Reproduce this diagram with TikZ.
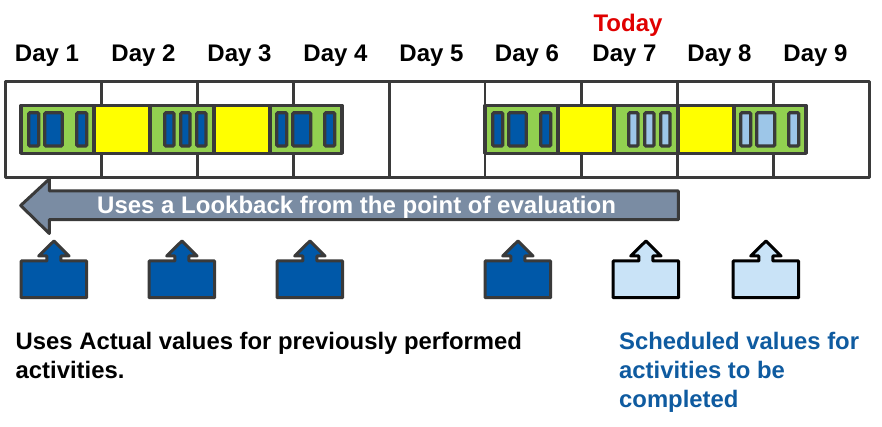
\documentclass[tikz,border=0pt]{standalone}
\usepackage{fontspec}
\setmainfont{Liberation Sans}
\definecolor{edge}{HTML}{3A3A3A}
\definecolor{barG}{HTML}{92D050}
\definecolor{barY}{HTML}{FFFF00}
\definecolor{actual}{HTML}{0058A8}
\definecolor{planned}{HTML}{9DC6E8}
\definecolor{sched}{HTML}{C9E3F7}
\definecolor{look}{HTML}{7A8CA3}
\definecolor{schedtxt}{HTML}{0F5BA0}
\definecolor{today}{HTML}{E00000}
\tikzset{
  x=1pt,y=-1pt,
  grid line/.style={draw=edge,line width=2.8pt,line join=round},
  segG/.style={draw=edge,fill=barG,line width=3.2pt,line join=round},
  segY/.style={draw=edge,fill=barY,line width=3.2pt,line join=round},
  pill/.style={draw=edge,line width=3.2pt,rounded corners=1.2pt},
  daylab/.style={font=\fontsize{24}{27}\selectfont\bfseries,anchor=base},
  bodytxt/.style={font=\fontsize{23.85}{29}\selectfont\bfseries,anchor=north west,align=left,inner sep=0pt},
  ubox/.style={line width=3pt,line join=round}
}
\newcommand{\upbox}[3]{%
  \path[ubox,draw=#2,fill=#3] (#1+21,261) -- (#1+46.9,261) -- (#1+46.9,256) -- (#1+38.7,256) -- (#1+53.9,241) -- (#1+69.1,256) -- (#1+60.9,256) -- (#1+60.9,261) -- (#1+86.7,261) -- (#1+86.7,297.7) -- (#1+21,297.7) -- cycle;}
\newcommand{\barset}[1]{%
  \path[segG] (#1+21,105.3) rectangle (#1+94,153.3);
  \path[segY] (#1+94,105.3) rectangle (#1+150,153.3);
  \path[segG] (#1+150,105.3) rectangle (#1+214,153.3);
  \path[segY] (#1+214,105.3) rectangle (#1+270,153.3);
  \path[segG] (#1+270,105.3) rectangle (#1+342,153.3);}
\newcommand{\pills}[4]{%
  \path[pill,fill=#2] (#1+#3,112.7) rectangle (#1+#4,146);}
\begin{document}
\begin{tikzpicture}
\useasboundingbox (0,0) rectangle (882,427);
\fill[white] (0,0) rectangle (882,427);
% day frame
\path[grid line] (5.5,81.5) rectangle (869.5,177.5);
\foreach \gx in {101.7,197.7,293.7,389.5,485,581.3,677.7,773.3}
  \path[grid line] (\gx,81.5) -- (\gx,177.5);
% activity bars
\barset{0}
\barset{464}
\foreach \a/\b in {28.7/38.7,44.7/62.3,76.7/86.7,164.7/174,180.7/190,196.7/206,276.7/286.7,292.7/310.7,324.7/334.7}
  \pills{0}{actual}{\a}{\b};
\foreach \a/\b in {28.7/38.7,44.7/62.3,76.7/86.7}
  \pills{464}{actual}{\a}{\b};
\foreach \a/\b in {164.7/174,180.7/190,196.7/206,276.7/286.7,292.7/310.7,324.7/334.7}
  \pills{464}{planned}{\a}{\b};
% lookback arrow
\path[draw=edge,fill=look,line width=3pt,line join=round] (20.7,205.5) -- (49.3,179) -- (49.3,191) -- (678.3,191) -- (678.3,219.7) -- (49.3,219.7) -- (49.3,233.5) -- cycle;
\node[font=\fontsize{24}{27}\selectfont\bfseries,text=white,anchor=base west,inner sep=0pt] (lookback) at (97,214) {Uses a Lookback from the point of evaluation};
% source boxes
\upbox{0}{edge}{actual}
\upbox{128}{edge}{actual}
\upbox{256}{edge}{actual}
\upbox{464}{edge}{actual}
\upbox{592}{black}{sched}
\upbox{712}{black}{sched}
% labels
\node[daylab,text=today] (today) at (628,31.5) {Today};
\node[daylab] (d1) at (47,61.5) {Day 1};
\node[daylab] (d2) at (143.5,61.5) {Day 2};
\node[daylab] (d3) at (239.5,61.5) {Day 3};
\node[daylab] (d4) at (335.5,61.5) {Day 4};
\node[daylab] (d5) at (431.5,61.5) {Day 5};
\node[daylab] (d6) at (527,61.5) {Day 6};
\node[daylab] (d7) at (624.5,61.5) {Day 7};
\node[daylab] (d8) at (719.5,61.5) {Day 8};
\node[daylab] (d9) at (815.5,61.5) {Day 9};
\node[bodytxt] (actualnote) at (15.5,332) {Uses Actual values for previously performed\\activities.};
\node[bodytxt,text=schedtxt] (schednote) at (619,332) {Scheduled values for\\activities to be\\completed};
\end{tikzpicture}
\end{document}
